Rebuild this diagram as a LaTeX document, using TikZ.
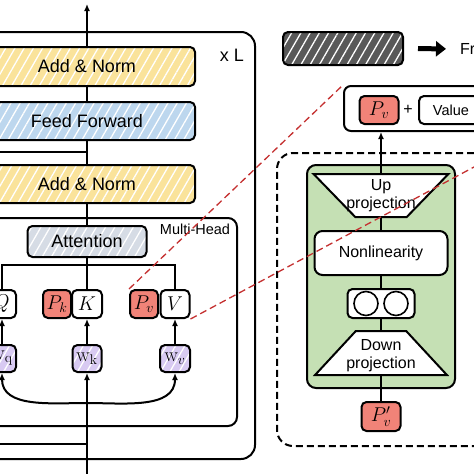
\RequirePackage{fix-cm}
\documentclass[tikz,border=0pt]{standalone}
\usepackage[no-math]{fontspec}
\setmainfont{Liberation Sans}
\usetikzlibrary{arrows.meta,patterns.meta,shapes.geometric}
\definecolor{normc}{RGB}{250,227,155}
\definecolor{ffc}{RGB}{189,215,238}
\definecolor{attc}{RGB}{214,220,229}
\definecolor{wc}{RGB}{216,202,242}
\definecolor{promptc}{RGB}{241,131,120}
\definecolor{adpc}{RGB}{197,224,180}
\definecolor{frozc}{RGB}{89,89,89}
\definecolor{linkc}{RGB}{196,48,48}
\begin{document}
\begin{tikzpicture}[x=1pt,y=-1pt,line width=2pt,
  >={Latex[length=7pt,width=6pt]},
  box/.style={draw, rounded corners=5pt, inner sep=0pt, fill=white},
  hatch/.style={preaction={fill=#1}, pattern={Lines[angle=60,distance=8pt,line width=1.3pt]}, pattern color=white},
  big/.style={font=\fontsize{18}{20}\selectfont},
  mid/.style={font=\fontsize{16}{18}\selectfont},
  small/.style={font=\fontsize{14.5}{16}\selectfont},
  mathf/.style={font=\fontsize{20}{22}\selectfont},
  link/.style={draw=linkc, line width=1.3pt, dash pattern=on 7pt off 4pt}]
\useasboundingbox (0,0) rectangle (474,474);
% transformer layer
\node[draw, rounded corners=14pt, minimum width=290pt, minimum height=427pt] (layer) at (110,245.5){};
\node[draw, rounded corners=9pt, minimum width=262pt, minimum height=208pt] (mh) at (106,322){};
\node[big] (xl) at (232,55){x L};
\node[small] (mhl) at (195,229){Multi-Head};
\node[box, hatch=normc, minimum width=216pt, minimum height=39pt, big] (an1) at (87,66.5){Add \& Norm};
\node[box, hatch=ffc, minimum width=216pt, minimum height=38pt, big] (ff) at (87,121){Feed Forward};
\node[box, hatch=normc, minimum width=216pt, minimum height=38pt, big] (an2) at (87,184){Add \& Norm};
\node[box, hatch=attc, minimum width=119pt, minimum height=31pt, big] (att) at (87,241.5){Attention};
\node[box, minimum width=28pt, minimum height=28pt, mathf] (q) at (2,304){$Q$};
\node[box, fill=promptc, minimum width=28pt, minimum height=28pt, mathf] (pk) at (57,304){$P_k$};
\node[box, minimum width=30pt, minimum height=28pt, mathf] (k) at (87,304){$K$};
\node[box, fill=promptc, minimum width=28pt, minimum height=28pt, mathf] (pv) at (144,304){$P_v$};
\node[box, minimum width=29pt, minimum height=28pt, mathf] (v) at (175,304){$V$};
\node[box, hatch=wc, minimum width=28pt, minimum height=27pt, mathf] (wq) at (2,358.5){$\mathrm{w}_{\mathrm{q}}$};
\node[box, hatch=wc, minimum width=29pt, minimum height=27pt, mathf] (wk) at (87,358.5){$\mathrm{w}_{\mathrm{k}}$};
\node[box, hatch=wc, minimum width=30pt, minimum height=27pt, mathf] (wv) at (175,358.5){$\mathrm{w}_{v}$};
\coordinate (top) at (87,4);
\coordinate (bus) at (87,265);
\coordinate (in) at (87,480);
\coordinate (fk) at (87,403);
\coordinate (r1) at (-40,152);
\coordinate (r2) at (-40,444);
\draw[->] (an1.north) -- (top);
\draw (ff.north) -- (an1.south);
\draw (an2.north) -- (ff.south);
\draw (att.north) -- (an2.south);
\draw (att.south) -- (k.north);
\draw (q.north) |- (bus) -| (v.north);
\draw[->] (wq.north) -- (q.south);
\draw[->] (wk.north) -- (k.south);
\draw[->] (wv.north) -- (v.south);
\draw[->] (in) -- (wk.south);
\draw[->] (fk) to[out=0,in=-90] (wv.south);
\draw[->] (fk) to[out=180,in=-90] (wq.south);
\draw (r1) -- (r1 -| an2.north);
\draw (r2) -- (r2 -| wk.south);
% legend
\node[box, hatch=frozc, minimum width=120pt, minimum height=33pt] (frz) at (343,48.5){};
\node[anchor=west, inner sep=0pt, mid] (frzt) at (459,49){Frozen};
\draw[line width=5pt, -{Triangle[length=10pt,width=15pt]}, shorten <=14pt, shorten >=13pt] (frz.east) -- (frzt.west);
% adapter
\node[box, rounded corners=7pt, minimum width=166pt, minimum height=45pt] (vbox) at (427,108.5){};
\node[box, fill=promptc, minimum width=39pt, minimum height=28pt, mathf] (pvt) at (379,110){$P_v$};
\node[mid] (plus) at (408,110){+};
\node[box, minimum width=64pt, minimum height=28pt, small] (val) at (451,110){Value};
\node[draw, dash pattern=on 7pt off 4pt, rounded corners=16pt, minimum width=224pt, minimum height=293pt] (adp) at (389,299.5){};
\node[draw, fill=adpc, rounded corners=9pt, minimum width=148pt, minimum height=223pt] (grn) at (381,276.5){};
\node[draw, fill=white, trapezium, trapezium stretches=true, shape border rotate=180, trapezium angle=51, minimum width=135pt, minimum height=43pt] (up) at (381,195.5){};
\node[mid, align=center] (uptxt) at (381,196){Up\\projection};
\node[box, rounded corners=8pt, minimum width=133pt, minimum height=44pt, mid] (nonl) at (381,253){Nonlinearity};
\node[box, minimum width=67pt, minimum height=29pt] (cir) at (381,303.5){};
\node[draw, circle, line width=1.6pt, minimum size=24pt, inner sep=0pt] (c1) at (366,303.5){};
\node[draw, circle, line width=1.6pt, minimum size=24pt, inner sep=0pt] (c2) at (396,303.5){};
\node[draw, fill=white, trapezium, trapezium stretches=true, trapezium angle=51, minimum width=132pt, minimum height=44pt] (dn) at (381,353){};
\node[mid, align=center] (dntxt) at (381,356){Down\\projection};
\node[box, fill=promptc, minimum width=39pt, minimum height=29pt, mathf] (pvp) at (381,416.5){$P'_v$};
\draw (pvp.north) -- (dn.south);
\draw (dn.north) -- (cir.south);
\draw (cir.north) -- (nonl.south);
\draw (nonl.north) -- (up.south);
\draw[->] (up.north) -- (up.north |- vbox.south);
\draw[link] (pv.north west) -- (vbox.north west);
\draw[link] (v.south east) -- (adp.north east);
\end{tikzpicture}
\end{document}
